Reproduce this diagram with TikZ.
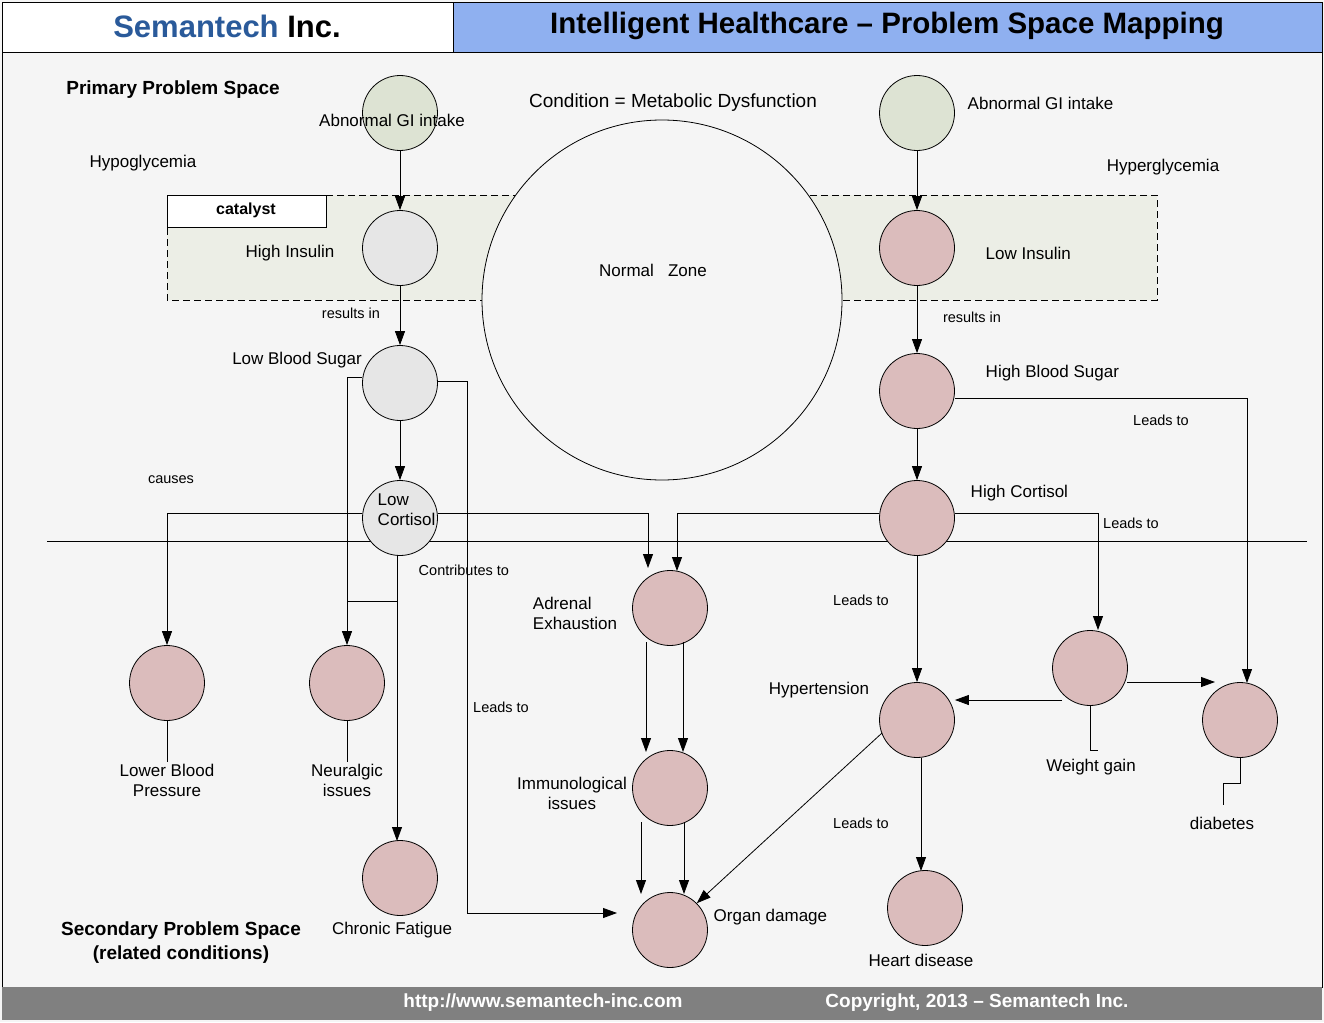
\documentclass[tikz,border=0pt]{standalone}
\usepackage{fontspec}
\setmainfont{Liberation Sans}
\usetikzlibrary{arrows.meta}
\definecolor{gcirc}{HTML}{DDE3D3}
\definecolor{gray1}{HTML}{E6E6E6}
\definecolor{pink1}{HTML}{DBBCBC}
\definecolor{hdr}{HTML}{8FB0F0}
\definecolor{semblue}{HTML}{2A5A9A}
\definecolor{bg}{HTML}{F5F5F5}
\definecolor{band}{HTML}{ECEEE6}
\begin{document}
\begin{tikzpicture}[x=1pt,y=-1pt,
  c/.style={circle,draw,minimum size=75pt,inner sep=0pt},
  gc/.style={c,fill=gcirc}, yc/.style={c,fill=gray1}, pc/.style={c,fill=pink1},
  lab/.style={font=\fontsize{17}{20}\selectfont,align=center},
  sl/.style={font=\fontsize{14.5}{16}\selectfont},
  ar/.style={-{Triangle[length=14pt,width=10pt]}},
  every path/.style={line width=0.8pt}]
\useasboundingbox (0,0) rectangle (1324,1022);
\fill[bg] (0,0) rectangle (1324,1022);
\draw[fill=white] (2,2) rectangle (453,52);
\draw[fill=hdr] (453,2) rectangle (1322,52);
\draw (2,52) rectangle (1322,987);
\fill[black!50] (2,987) rectangle (1322,1020);
\node[font=\fontsize{31}{32}\selectfont\bfseries] (t1) at (227,26) {\textcolor{semblue}{Semantech} Inc.};
\node[font=\fontsize{29.5}{30}\selectfont\bfseries] (t2) at (887,26) {Intelligent Healthcare -- Problem Space Mapping};
\node[font=\fontsize{19}{20}\selectfont\bfseries,white] (f1) at (543,1003) {http://www.semantech-inc.com};
\node[font=\fontsize{19}{20}\selectfont\bfseries,white] (f2) at (977,1003) {Copyright, 2013 -- Semantech Inc.};
% band
\draw[dash pattern=on 7pt off 4pt,fill=band] (167,195) rectangle (1157,300);
\draw[fill=white] (167,195) rectangle (326,227);
\node[font=\fontsize{16}{16}\selectfont\bfseries] (cat) at (246,210) {catalyst};
\node[circle,draw,minimum size=360pt,inner sep=0pt,fill=bg] (nz) at (662,300) {};
\node[lab] (nzl) at (653,270) {Normal\ \ \ Zone};
\node[font=\fontsize{19}{20}\selectfont] (cmd) at (673,103) {Condition = Metabolic Dysfunction};
\draw (47,541) -- (1307,541);
% circles
\node[gc] (gl) at (400,113) {};
\node[gc] (gr) at (917,113) {};
\node[yc] (hi) at (400,248) {};
\node[pc] (li) at (917,248) {};
\node[yc] (lbs) at (400,383) {};
\node[pc] (hbs) at (917,391) {};
\node[yc] (lc) at (400,518) {};
\node[pc] (hc) at (917,518) {};
\node[pc] (ad) at (670,608) {};
\node[pc] (im) at (670,788) {};
\node[pc] (od) at (670,930) {};
\node[pc] (lbp) at (167,683) {};
\node[pc] (ne) at (347,683) {};
\node[pc] (cf) at (400,878) {};
\node[pc] (hy) at (917,720) {};
\node[pc] (wg) at (1090,668) {};
\node[pc] (di) at (1240,720) {};
\node[pc] (hd) at (925,908) {};
% texts
\node[font=\fontsize{19}{20}\selectfont\bfseries] (pps) at (173,90) {Primary Problem Space};
\node[font=\fontsize{19}{24}\selectfont\bfseries,align=center] (sps) at (181,943) {Secondary Problem Space\\(related conditions)};
\node[lab] at (143,163) {Hypoglycemia};
\node[lab] at (1163,167) {Hyperglycemia};
\node[lab] at (392,120) {Abnormal GI intake};
\node[lab,anchor=west] at (964,103) {Abnormal GI intake};
\node[lab] at (290,253) {High Insulin};
\node[lab,anchor=west] at (982,253) {Low Insulin};
\node[sl] at (351,313) {results in};
\node[sl] at (972,317) {results in};
\node[lab] at (297,360) {Low Blood Sugar};
\node[lab,anchor=west] at (982,373) {High Blood Sugar};
\node[lab,align=left,anchor=west] at (374,510) {Low\\Cortisol};
\node[lab,anchor=west] at (967,493) {High Cortisol};
\node[sl] at (171,480) {causes};
\node[sl,anchor=west] at (415,570) {Contributes to};
\node[sl] at (1161,420) {Leads to};
\node[sl] at (1131,523) {Leads to};
\node[sl] at (861,600) {Leads to};
\node[sl] at (501,707) {Leads to};
\node[sl] at (861,823) {Leads to};
\node[lab,align=left] at (575,613) {Adrenal\\Exhaustion};
\node[lab] at (572,793) {Immunological\\issues};
\node[lab,anchor=west] at (710,917) {Organ damage};
\node[lab] at (167,780) {Lower Blood\\Pressure};
\node[lab] at (347,780) {Neuralgic\\issues};
\node[lab] at (392,930) {Chronic Fatigue};
\node[lab] at (819,690) {Hypertension};
\node[lab] at (1091,767) {Weight gain};
\node[lab] at (1222,823) {diabetes};
\node[lab] at (921,960) {Heart disease};
% connectors
\draw[ar] (gl) -- (hi);
\draw[ar] (gr) -- (li);
\draw[ar] (hi) -- (lbs);
\draw[ar] (li) -- (hbs);
\draw[ar] (lbs) -- (lc);
\draw[ar] (hbs) -- (hc);
\draw[ar] (hc) -- (hy);
\draw[ar] (hy.south -| 921,0) -- (921,871);
\draw[ar] (lbs.west |- 0,377) -- (347,377) -- (ne.north);
\draw[ar] (lbs.east |- 0,381) -- (467,381) -- (467,913) -- (617,913);
\draw[ar] (lc.west |- 0,513) -- (167,513) -- (lbp.north);
\draw[ar] (lc.east |- 0,513) -- (648,513) -- (648,568);
\draw[ar] (lc.south -| 397,0) -- (397,841);
\draw (347,601) -- (397,601);
\draw[ar] (hc.west |- 0,513) -- (677,513) -- (677,571);
\draw[ar] (hc.east |- 0,513) -- (1098,513) -- (1098,630);
\draw[ar] (hbs.east |- 0,398) -- (1247,398) -- (1247,683);
\draw[ar] (1062,700) -- (hy.east |- 0,700);
\draw[ar] (1127,682) -- (1215,682);
\draw[ar] (882,733) -- (od.north east);
\draw[ar] (646,642) -- (646,752);
\draw[ar] (683,642) -- (683,752);
\draw[ar] (641,822) -- (641,894);
\draw[ar] (684,822) -- (684,894);
\draw (lbp.south) -- (167,762);
\draw (ne.south) -- (347,762);
\draw (wg.south) -- (1090,750) -- (1098,750);
\draw (di.south) -- (1240,783) -- (1223,783) -- (1223,805);
\end{tikzpicture}
\end{document}
